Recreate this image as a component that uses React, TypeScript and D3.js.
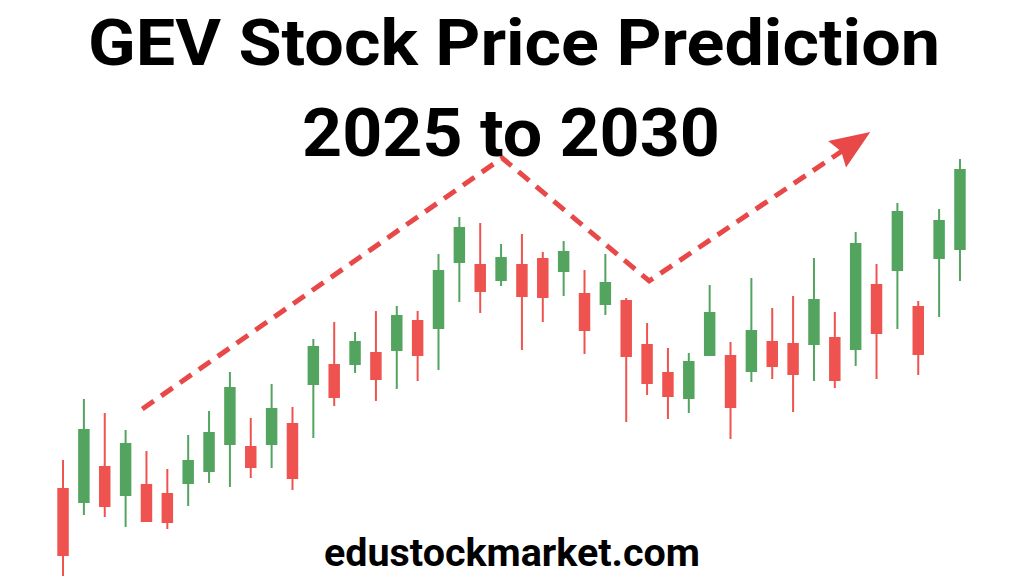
import React, { useEffect, useRef } from 'react';
import * as d3 from 'd3';

// candle values (price units), left to right
const opens = [132, 117, 154, 124, 136, 127, 136, 148, 175, 174, 175, 197, 235, 256, 255, 268, 269, 300, 291, 357, 356, 339, 356, 362, 348, 327, 315, 320, 276, 248, 221, 264, 265, 248, 279, 277, 275, 283, 270, 336, 349, 314, 361, 370];
const highs = [160, 221, 207, 190, 169, 151, 185, 209, 248, 202, 236, 213, 281, 298, 288, 309, 314, 309, 366, 403, 397, 376, 386, 368, 379, 350, 366, 322, 297, 272, 267, 335, 278, 342, 312, 324, 362, 308, 388, 356, 417, 319, 411, 461];
const lows = [44, 105, 103, 93, 98, 91, 114, 137, 133, 142, 152, 130, 182, 214, 247, 219, 231, 239, 250, 318, 307, 334, 270, 298, 324, 266, 305, 198, 225, 201, 207, 264, 181, 238, 241, 208, 239, 232, 254, 241, 291, 245, 303, 339];
const closes = [64, 191, 113, 177, 98, 97, 160, 188, 233, 152, 212, 141, 274, 222, 279, 240, 305, 264, 350, 393, 328, 363, 323, 322, 369, 289, 338, 263, 236, 223, 259, 308, 212, 290, 253, 245, 321, 239, 377, 286, 409, 265, 400, 451];

// trend arrow waypoints (candle index, price)
const trendIdx = [3.8, 21.05, 28.1, 38.7];
const trendPrice = [211, 462, 339, 488];

const titleLines = ['GEV Stock Price Prediction', '2025 to 2030'];
const footer = 'edustockmarket.com';

const GREEN = '#53a45f';
const RED = '#ef5350';
const ARROW = '#e94848';

const App: React.FC = () => {
  const svgRef = useRef<SVGSVGElement>(null);

  useEffect(() => {
    if (!svgRef.current) return;
    const width = 1024;
    const height = 576;
    const svg = d3.select(svgRef.current);
    svg.selectAll('*').remove();
    svg.attr('width', width).attr('height', height);

    svg.append('rect').attr('width', width).attr('height', height).attr('fill', '#fff');

    const candles = opens.map((o, i) => ({ i, o, h: highs[i], l: lows[i], c: closes[i] }));

    const x = d3.scaleBand<number>()
      .domain(candles.map(d => d.i))
      .range([52.6, 970.4])
      .paddingInner(0.45)
      .paddingOuter(0.225);
    const xc = (i: number) => (x(i) as number) + x.bandwidth() / 2;
    const xLin = d3.scaleLinear().domain([0, candles.length - 1]).range([xc(0), xc(candles.length - 1)]);
    const y = d3.scaleLinear().domain([0, 620]).range([620, 0]);

    const g = svg.append('g');
    const candle = g.selectAll('.candle')
      .data(candles)
      .enter()
      .append('g')
      .attr('class', 'candle');

    candle.append('line')
      .attr('x1', d => xc(d.i))
      .attr('x2', d => xc(d.i))
      .attr('y1', d => y(d.h))
      .attr('y2', d => y(d.l))
      .attr('stroke', d => (d.c >= d.o ? GREEN : RED))
      .attr('stroke-width', 2);

    candle.append('rect')
      .attr('x', d => x(d.i) as number)
      .attr('width', x.bandwidth())
      .attr('y', d => y(Math.max(d.o, d.c)))
      .attr('height', d => Math.abs(y(d.o) - y(d.c)))
      .attr('fill', d => (d.c >= d.o ? GREEN : RED));

    // dashed trend line with arrow head
    const pts: [number, number][] = trendIdx.map((t, k) => [xLin(t), y(trendPrice[k])]);
    const tip = pts[pts.length - 1];
    const prev = pts[pts.length - 2];
    const ang = Math.atan2(tip[1] - prev[1], tip[0] - prev[0]);
    const headLen = 40;
    const headHalf = 16;
    const base: [number, number] = [tip[0] - headLen * Math.cos(ang), tip[1] - headLen * Math.sin(ang)];
    const linePts = [...pts.slice(0, -1), [base[0] + 6 * Math.cos(ang), base[1] + 6 * Math.sin(ang)] as [number, number]];

    svg.append('path')
      .attr('d', d3.line()(linePts) as string)
      .attr('fill', 'none')
      .attr('stroke', ARROW)
      .attr('stroke-width', 5)
      .attr('stroke-dasharray', '14 9');

    const nx = -Math.sin(ang);
    const ny = Math.cos(ang);
    svg.append('path')
      .attr('d', d3.line()([
        tip,
        [base[0] + headHalf * nx, base[1] + headHalf * ny],
        [base[0] + 5 * Math.cos(ang), base[1] + 5 * Math.sin(ang)],
        [base[0] - headHalf * nx, base[1] - headHalf * ny]
      ]) + 'Z')
      .attr('fill', ARROW);

    // titles
    const font = "Roboto, 'Noto Sans', sans-serif";
    svg.append('text')
      .attr('x', 514)
      .attr('y', 65)
      .attr('text-anchor', 'middle')
      .attr('textLength', 852)
      .attr('lengthAdjust', 'spacingAndGlyphs')
      .style('font-family', font)
      .style('font-weight', 700)
      .style('font-size', '65px')
      .attr('fill', '#000')
      .text(titleLines[0]);

    svg.append('text')
      .attr('x', 511)
      .attr('y', 156)
      .attr('text-anchor', 'middle')
      .attr('textLength', 418)
      .attr('lengthAdjust', 'spacingAndGlyphs')
      .style('font-family', font)
      .style('font-weight', 700)
      .style('font-size', '67px')
      .attr('fill', '#000')
      .text(titleLines[1]);

    svg.append('text')
      .attr('x', 512)
      .attr('y', 566)
      .attr('text-anchor', 'middle')
      .attr('textLength', 376)
      .attr('lengthAdjust', 'spacingAndGlyphs')
      .style('font-family', font)
      .style('font-weight', 700)
      .style('font-size', '38px')
      .attr('fill', '#000')
      .text(footer);
  }, []);

  return (
    <svg
      ref={svgRef}
      width={1024}
      height={576}
      style={{ position: 'absolute', left: 0, top: 0, display: 'block' }}
    />
  );
};

export default App;
